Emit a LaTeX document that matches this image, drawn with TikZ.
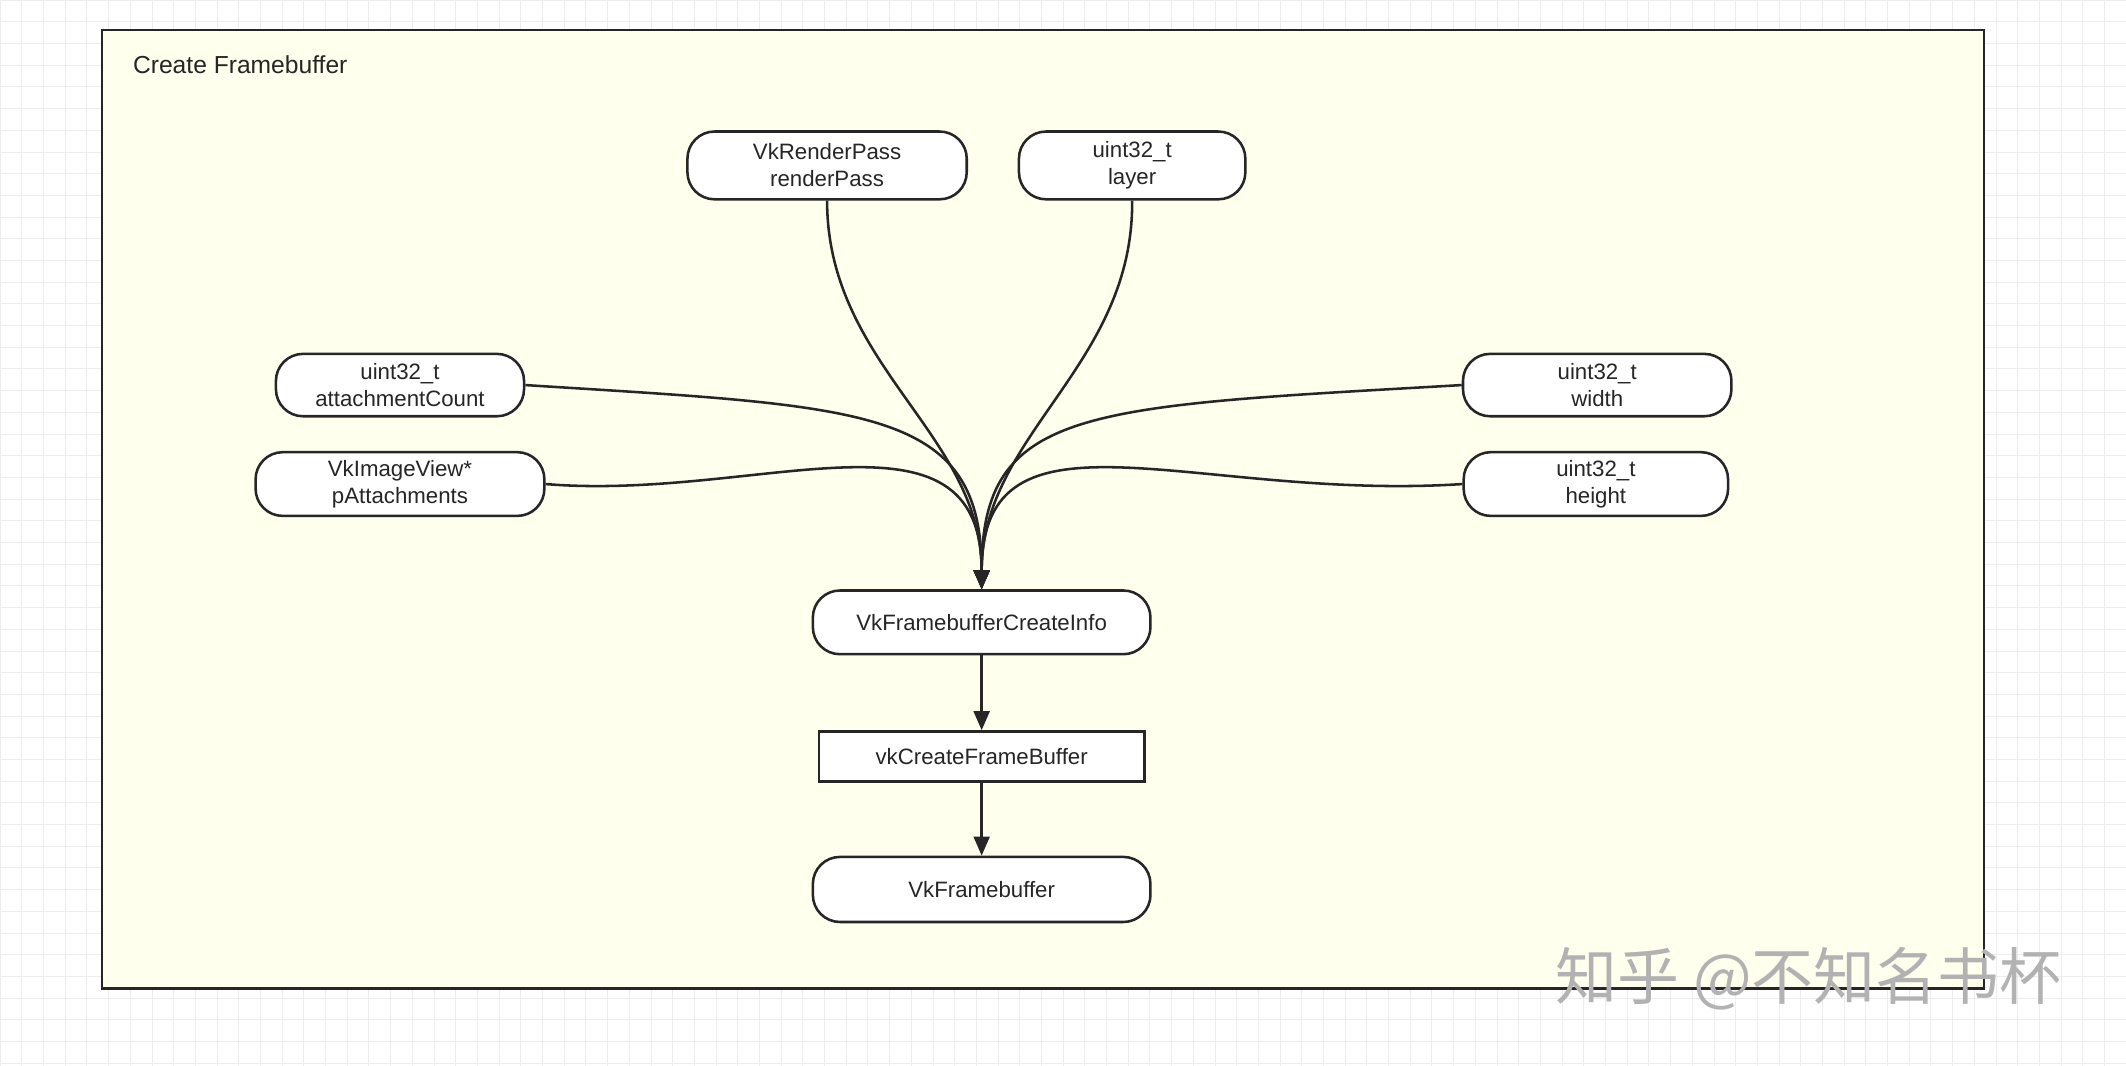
\documentclass[tikz,border=0pt]{standalone}
\usepackage{fontspec}
\setmainfont{Liberation Sans}
\newfontfamily\cjk{Noto Sans CJK SC}
\usetikzlibrary{arrows.meta}
\begin{document}
\begin{tikzpicture}[x=0.03cm,y=-0.03cm,
  every node/.style={font=\fontsize{14}{17}\selectfont,text=black!85,align=center},
  pill/.style={draw=black!85,line width=1.6pt,rounded corners=0.6cm,fill=white,inner sep=0pt},
  box/.style={draw=black!85,line width=1.6pt,fill=white,inner sep=0pt},
  conn/.style={draw=black!85,line width=1.6pt,-{Triangle[length=12pt,width=10pt]}}]
\useasboundingbox (0,0) rectangle (1568,786);
\fill[white] (0,0) rectangle (1568,786);
\foreach \x in {0,16,...,1568} \draw[black!7,line width=0.4pt] (\x,0)--(\x,786);
\foreach \y in {0,16,...,786} \draw[black!7,line width=0.4pt] (0,\y)--(1568,\y);
\draw[black!85,line width=1.4pt,fill={rgb,255:red,255;green,255;blue,238}] (75,22) rectangle (1463,729);
\node[anchor=west,font=\fontsize{15.5}{18}\selectfont] (title) at (94,48) {Create Framebuffer};
\node[pill,minimum width=206*0.03cm,minimum height=50*0.03cm] (rp) at (610,122) {VkRenderPass\\renderPass};
\node[pill,minimum width=167*0.03cm,minimum height=50*0.03cm] (ly) at (835,122) {uint32\_t\\layer};
\node[pill,minimum width=183*0.03cm,minimum height=46*0.03cm] (ac) at (295,284) {uint32\_t\\attachmentCount};
\node[pill,minimum width=213*0.03cm,minimum height=47*0.03cm] (pa) at (295,357) {VkImageView*\\pAttachments};
\node[pill,minimum width=198*0.03cm,minimum height=46*0.03cm] (wd) at (1178,284) {uint32\_t\\width};
\node[pill,minimum width=195*0.03cm,minimum height=47*0.03cm] (ht) at (1177,357) {uint32\_t\\height};
\node[pill,minimum width=249*0.03cm,minimum height=47*0.03cm] (ci) at (724,459) {VkFramebufferCreateInfo};
\node[box,minimum width=240*0.03cm,minimum height=37*0.03cm] (cf) at (724,558) {vkCreateFrameBuffer};
\node[pill,minimum width=249*0.03cm,minimum height=48*0.03cm] (fb) at (724,656) {VkFramebuffer};
\draw[conn] (rp.south) .. controls (610,270) and (724,320) .. (ci.north);
\draw[conn] (ly.south) .. controls (836,270) and (724,320) .. (ci.north);
\draw[conn] (ac.east) .. controls (640,300) and (724,300) .. (ci.north);
\draw[conn] (pa.east) .. controls (560,370) and (724,290) .. (ci.north);
\draw[conn] (wd.west) .. controls (800,300) and (724,300) .. (ci.north);
\draw[conn] (ht.west) .. controls (880,370) and (724,290) .. (ci.north);
\draw[conn] (ci.south) -- (cf.north);
\draw[conn] (cf.south) -- (fb.north);
\node[anchor=west,text=black!30,font=\cjk\fontsize{39}{44}\selectfont] (wm) at (1143,722) {知乎 @不知名书杯};
\end{tikzpicture}
\end{document}
